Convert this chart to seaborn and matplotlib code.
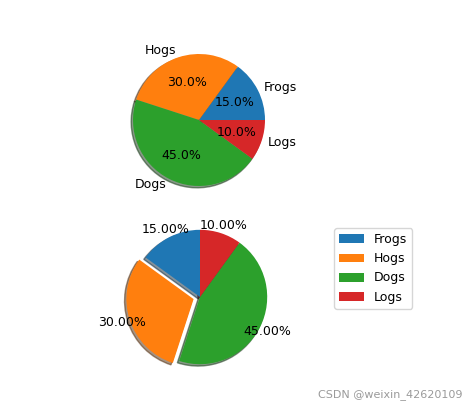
import matplotlib
matplotlib.use("Agg")
import matplotlib.pyplot as plt
import seaborn as sns

# ── Data ──────────────────────────────────────────────────────────────────────
labels = ['Frogs', 'Hogs', 'Dogs', 'Logs']
sizes  = [15, 30, 45, 10]
explode = [0, 0.1, 0, 0]

colors = sns.color_palette("tab10", 4)
plt.rcParams['font.size'] = 9

W, H = 474, 407
fig = plt.figure(figsize=(W / 100, H / 100), dpi=100)

# ── Top pie: labels + 1-decimal percentages ──────────────────────────────────
s1 = 165
ax1 = fig.add_axes([(199 - s1 / 2) / W, (H - 120 - s1 / 2) / H, s1 / W, s1 / H])
ax1.pie(sizes, labels=labels, colors=colors, autopct='%1.1f%%', shadow=True)

# ── Bottom pie: exploded Hogs, outside percentages, legend ───────────────────
s2 = 168
ax2 = fig.add_axes([(200 - s2 / 2) / W, (H - 297 - s2 / 2) / H, s2 / W, s2 / H])
patches, texts, autotexts = ax2.pie(sizes, explode=explode, colors=colors,
                                    autopct='%1.2f%%', pctdistance=1.12,
                                    shadow=True, startangle=90)
fig.legend(patches, labels, loc='upper left', borderaxespad=0,
           bbox_to_anchor=(334 / W, 1 - 228 / H))

fig.text(462 / W, 1 - 395 / H, "CSDN @weixin_42620109", ha='right', va='center',
         fontsize=8, color='#9a9a9a')

plt.savefig("out.png", dpi=100)
plt.close()
